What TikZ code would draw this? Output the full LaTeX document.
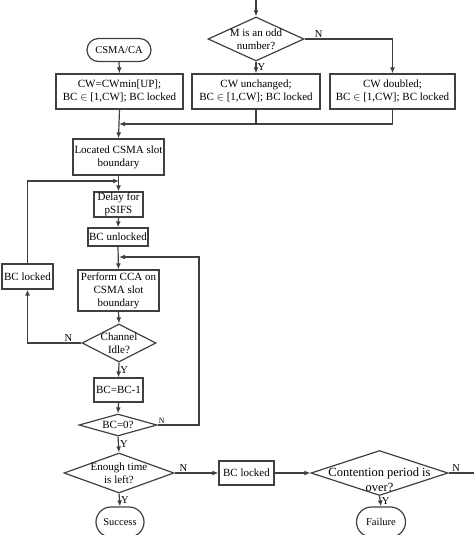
\documentclass[tikz,border=0pt]{standalone}
\usepackage{fontspec}
\setmainfont{Liberation Serif}
\usetikzlibrary{shapes.geometric,shapes.misc,arrows.meta}
\tikzset{
    line/.style={draw=black!75,line width=1.2pt},
    arr/.style={line,-{Latex[length=6pt,width=5pt]}},
    proc/.style={draw=black!75,line width=1.2pt,rectangle,align=center,inner sep=0pt,
        font=\fontsize{11}{13}\selectfont},
    term/.style={draw=black!75,line width=1.2pt,rounded rectangle,inner sep=0pt,
        font=\fontsize{10.5}{12}\selectfont},
    decide/.style={draw=black!75,line width=1.2pt,diamond,inner sep=0pt},
    dtext/.style={align=center,inner sep=0pt,font=\fontsize{11}{13}\selectfont},
    yn/.style={font=\fontsize{10.5}{12}\selectfont,inner sep=1pt}
}
\begin{document}
\begin{tikzpicture}[x=1pt,y=-1pt]
    \useasboundingbox (0,0) rectangle (474,535);
    \clip (0,0) rectangle (474,535);
    % top part
    \coordinate (start) at (256,0);
    \node[decide,minimum width=96,minimum height=44] (odd) at (256,39) {};
    \node[dtext] at (odd) {M is an odd\\number?};
    \node[term,minimum width=64,minimum height=23] (csma) at (119,50) {CSMA/CA};
    \node[proc,minimum width=127,minimum height=35] (cwmin) at (119.5,91.5)
        {CW=CWmin[UP];\\BC $\in$ [1,CW]; BC locked};
    \node[proc,minimum width=128,minimum height=35] (cwsame) at (256,91.5)
        {CW unchanged;\\BC $\in$ [1,CW]; BC locked};
    \node[proc,minimum width=125,minimum height=35] (cwdbl) at (392.5,91.5)
        {CW doubled;\\BC $\in$ [1,CW]; BC locked};
    \coordinate (merge) at (119,124);
    % slot loop
    \node[proc,minimum width=91,minimum height=36] (slot) at (118.5,157)
        {Located CSMA slot\\boundary};
    \coordinate (back1) at (119,181);
    \node[proc,minimum width=49,minimum height=25] (delay) at (118.5,204.5)
        {Delay for\\pSIFS};
    \node[proc,minimum width=60,minimum height=18] (unlock) at (118,237) {BC unlocked};
    \coordinate (back2) at (119,257);
    \node[proc,minimum width=51,minimum height=25] (lockA) at (27.5,276.5) {BC locked};
    \node[proc,minimum width=81,minimum height=41] (cca) at (118.5,290.5)
        {Perform CCA on\\CSMA slot\\boundary};
    \node[decide,minimum width=74,minimum height=38] (idle) at (119,343) {};
    \node[dtext] at (idle) {Channel\\Idle?};
    \node[proc,minimum width=49,minimum height=24] (dec) at (118.5,390) {BC=BC-1};
    \node[decide,minimum width=78,minimum height=22] (zero) at (118,425) {};
    \node[dtext] at (zero) {BC=0?};
    % bottom row
    \node[decide,minimum width=110,minimum height=40] (time) at (119,473) {};
    \node[dtext] at (time) {Enough time\\is left?};
    \node[proc,minimum width=55,minimum height=24] (lockB) at (246.5,473) {BC locked};
    \node[decide,minimum width=137,minimum height=45] (over) at (379.5,473) {};
    \node[dtext,font=\fontsize{12.5}{15}\selectfont] at ([yshift=-7pt]over.center)
        {Contention period is\\over?};
    \coordinate (exit) at (474,473);
    \node[term,minimum width=48,minimum height=30] (succ) at (120,522) {Success};
    \node[term,minimum width=49,minimum height=30] (fail) at (381,522) {Failure};
    % connectors
    \draw[arr] (start) -- (odd.north);
    \draw[arr] (odd.south) -- (cwsame.north) node[yn,midway,right] {Y};
    \draw[arr] (odd.east) -| (cwdbl.north) node[yn,pos=0.08,above] {N};
    \draw[arr] (csma.south) -- (cwmin.north);
    \draw[arr] (cwdbl.south) |- (merge);
    \draw[line] (cwsame.south) -- (cwsame.south |- merge);
    \draw[arr] (cwmin.south) -- (slot.north);
    \draw[arr] (lockA.north) |- (back1);
    \draw[arr] (slot.south) -- (delay.north);
    \draw[arr] (delay.south) -- (unlock.north);
    \draw[arr] (unlock.south) -- (cca.north);
    \draw[arr] (cca.south) -- (idle.north);
    \draw[arr] (idle.west) -| (lockA.south) node[yn,pos=0.12,above] {N};
    \draw[arr] (idle.south) -- (dec.north) node[yn,midway,right] {Y};
    \draw[arr] (dec.south) -- (zero.north);
    \draw[arr] (zero.east) -| (199,257) -- (back2);
    \node[font=\fontsize{8}{9}\selectfont,inner sep=1pt,above right] at (zero.east) {N};
    \draw[arr] (zero.south) -- (time.north) node[yn,midway,right] {Y};
    \draw[arr] (time.east) -- (lockB.west) node[yn,pos=0.2,above] {N};
    \draw[arr] (time.south) -- (succ.north) node[yn,midway,right] {Y};
    \draw[arr] (lockB.east) -- (over.west);
    \draw[line] (over.east) -- (exit) node[yn,pos=0.3,above] {N};
    \draw[arr] (over.south) -- (fail.north) node[yn,midway,right] {Y};
\end{tikzpicture}
\end{document}
